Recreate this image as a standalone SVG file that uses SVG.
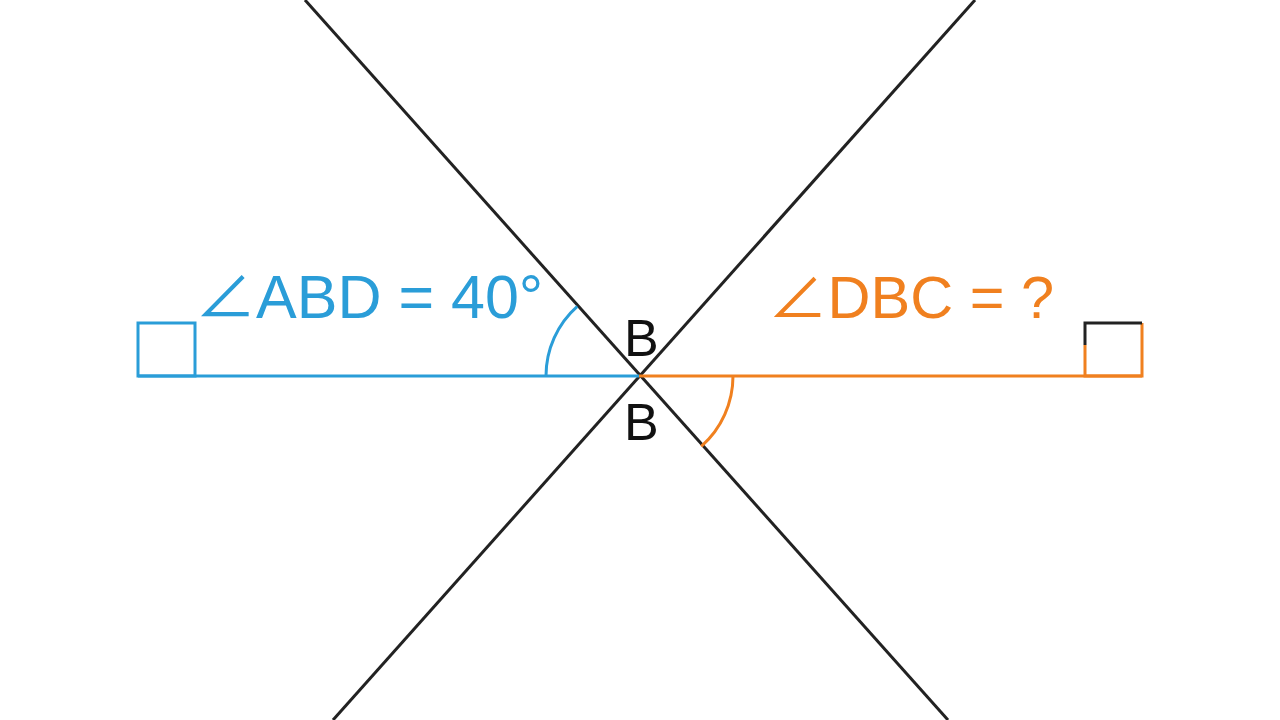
<svg xmlns="http://www.w3.org/2000/svg" width="1280" height="720" viewBox="0 0 1280 720">
<style>
.blk{stroke:#222;stroke-width:3;fill:none;stroke-linecap:butt}
.blu{stroke:#2a9dd8;stroke-width:3;fill:none}
.org{stroke:#f0801f;stroke-width:3;fill:none}
.t{font-family:"Liberation Sans",Arial,sans-serif}
.ang{font-family:"Noto Sans CJK JP","DejaVu Sans",sans-serif;font-weight:normal}
</style>
<rect width="1280" height="720" fill="#fff"/>
<g id="connectors">
<line class="blk" x1="305" y1="0" x2="948" y2="720"/>
<line class="blk" x1="975" y1="0" x2="333" y2="720"/>
<line class="blu" x1="138" y1="376" x2="639" y2="376"/>
<line class="org" x1="639" y1="376" x2="1142" y2="376"/>
</g>
<g id="left-square"><rect class="blu" x="138" y="323" width="57" height="53"/></g>
<g id="right-square">
<polyline class="org" points="1085,345 1085,376 1142,376 1142,323"/>
<polyline class="blk" points="1085,345 1085,323 1142,323"/>
</g>
<g id="angle-ABD">
<path class="blu" d="M546,376 A93,93 0 0 1 577.3,306.3"/>
<text class="t" x="195" y="318" font-size="61" fill="#2a9dd8"><tspan class="ang">∠</tspan>ABD = 40°</text>
</g>
<g id="angle-DBC">
<path class="org" d="M733,376 A94,94 0 0 1 701.3,446.4"/>
<text class="t" x="768" y="318" font-size="59.5" fill="#f0801f"><tspan class="ang">∠</tspan>DBC = ?</text>
</g>
<g id="label-B-top"><text class="t" x="624" y="356" font-size="52" fill="#111">B</text></g>
<g id="label-B-bottom"><text class="t" x="624" y="440" font-size="52" fill="#111">B</text></g>
</svg>
